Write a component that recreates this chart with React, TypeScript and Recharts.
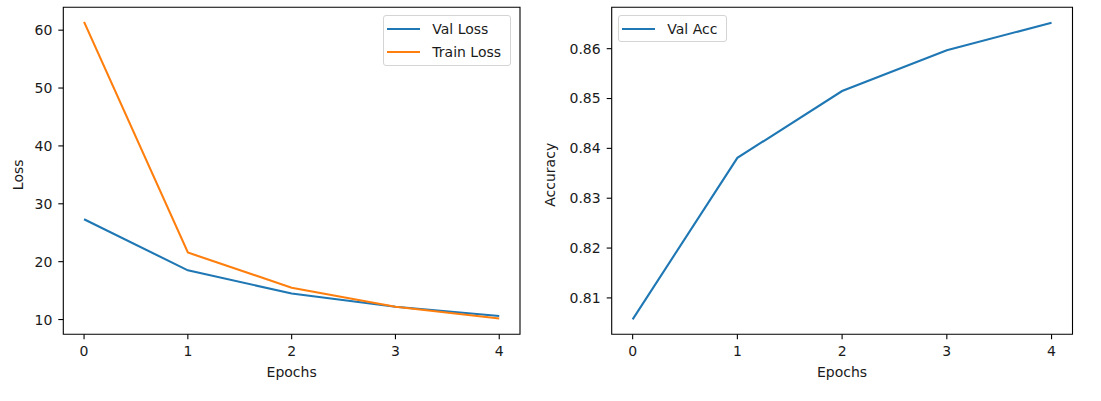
import React from 'react';
import { LineChart, Line, XAxis, YAxis, Legend, ReferenceArea } from 'recharts';

const epochs = [0, 1, 2, 3, 4];
const valLoss = [27.33, 18.5, 14.5, 12.2, 10.62];
const trainLoss = [61.43, 21.58, 15.5, 12.2, 10.17];
const valAcc = [0.8057, 0.8381, 0.8515, 0.8597, 0.8652];
const epochTicks = [0, 1, 2, 3, 4];
const lossTicks = [10, 20, 30, 40, 50, 60];
const accTicks = [0.81, 0.82, 0.83, 0.84, 0.85, 0.86];
const legendOrder = ['Val Loss', 'Train Loss', 'Val Acc'];

const xDomain: [number, number] = [-0.2, 4.2];
const lossDomain: [number, number] = [7.45, 63.95];
const accDomain: [number, number] = [0.8027, 0.8683];

const lossData = epochs.map((e, i) => ({ epoch: e, val: valLoss[i], train: trainLoss[i] }));
const accData = epochs.map((e, i) => ({ epoch: e, acc: valAcc[i] }));

const FONT = "'DejaVu Sans', sans-serif";
const BLUE = '#1f77b4';
const ORANGE = '#ff7f0e';
const TEXT = '#1a1a1a';

const tickStyle = { fontFamily: FONT, fontSize: 14, fill: TEXT };
const tickLine = { stroke: '#000', strokeWidth: 1.1 };

function LegendBox(props: any) {
  const payload = [...(props.payload || [])].sort(
    (a: any, b: any) => legendOrder.indexOf(a.value) - legendOrder.indexOf(b.value)
  );
  return (
    <div
      style={{
        border: '1px solid #d4d4d4',
        borderRadius: 3,
        background: 'rgba(255,255,255,0.8)',
        padding: '1px 9px 1px 3px',
        fontFamily: FONT,
        fontSize: 14,
        color: TEXT,
        boxSizing: 'border-box',
        display: 'inline-block',
      }}
    >
      {payload.map((p: any) => (
        <div key={p.value} style={{ height: 23.4, display: 'flex', alignItems: 'center' }}>
          <svg width={33} height={4} style={{ marginRight: 12, display: 'block' }}>
            <line x1={0} y1={2} x2={33} y2={2} stroke={p.color} strokeWidth={2.1} />
          </svg>
          <span style={{ whiteSpace: 'nowrap', lineHeight: '16px' }}>{p.value}</span>
        </div>
      ))}
    </div>
  );
}

const xLabel = (text: string) => ({
  content: (props: any) => {
    const vb = props.viewBox || { x: 0, y: 0, width: 0, height: 0 };
    return (
      <text x={vb.x + vb.width / 2} y={vb.y + 43} textAnchor="middle" style={tickStyle}>
        {text}
      </text>
    );
  },
});

const yLabel = (text: string, dx: number) => ({
  content: (props: any) => {
    const vb = props.viewBox || { x: 0, y: 0, width: 0, height: 0 };
    const cx = vb.x + dx;
    const cy = vb.y + vb.height / 2 + 4;
    return (
      <text
        x={cx}
        y={cy}
        textAnchor="middle"
        dominantBaseline="central"
        transform={`rotate(-90 ${cx} ${cy})`}
        style={tickStyle}
      >
        {text}
      </text>
    );
  },
});

function LossChart() {
  return (
    <LineChart width={530} height={401} data={lossData} margin={{ top: 7.3, right: 10, bottom: 6.7, left: 0 }}>
      <XAxis
        type="number"
        dataKey="epoch"
        domain={xDomain}
        ticks={epochTicks}
        allowDataOverflow
        height={60}
        axisLine={false}
        tickLine={tickLine}
        tickSize={5}
        tickMargin={7}
        tick={tickStyle}
        label={xLabel('Epochs')}
      />
      <YAxis
        type="number"
        domain={lossDomain}
        ticks={lossTicks}
        allowDataOverflow
        width={63.3}
        axisLine={false}
        tickLine={tickLine}
        tickSize={5}
        tickMargin={6}
        tick={tickStyle}
        label={yLabel('Loss', 18.3)}
      />
      <Line type="linear" dataKey="val" name="Val Loss" stroke={BLUE} strokeWidth={2.1} dot={false} isAnimationActive={false} />
      <Line type="linear" dataKey="train" name="Train Loss" stroke={ORANGE} strokeWidth={2.1} dot={false} isAnimationActive={false} />
      <ReferenceArea
        x1={xDomain[0]}
        x2={xDomain[1]}
        y1={lossDomain[0]}
        y2={lossDomain[1]}
        fill="none"
        fillOpacity={0}
        stroke="#000"
        strokeWidth={1.1}
        ifOverflow="visible"
      />
      <Legend
        layout="vertical"
        align="center"
        verticalAlign="middle"
        content={<LegendBox />}
        wrapperStyle={{ left: 383.3, top: 15, width: 130, height: 50 }}
      />
    </LineChart>
  );
}

function AccChart() {
  return (
    <LineChart width={571} height={401} data={accData} margin={{ top: 7.3, right: 28.5, bottom: 6.7, left: 0 }}>
      <XAxis
        type="number"
        dataKey="epoch"
        domain={xDomain}
        ticks={epochTicks}
        allowDataOverflow
        height={60}
        axisLine={false}
        tickLine={tickLine}
        tickSize={5}
        tickMargin={7}
        tick={tickStyle}
        label={xLabel('Epochs')}
      />
      <YAxis
        type="number"
        domain={accDomain}
        ticks={accTicks}
        allowDataOverflow
        width={81.7}
        axisLine={false}
        tickLine={tickLine}
        tickSize={5}
        tickMargin={6}
        tick={tickStyle}
        tickFormatter={(v: number) => v.toFixed(2)}
        label={yLabel('Accuracy', 20)}
      />
      <Line type="linear" dataKey="acc" name="Val Acc" stroke={BLUE} strokeWidth={2.1} dot={false} isAnimationActive={false} />
      <ReferenceArea
        x1={xDomain[0]}
        x2={xDomain[1]}
        y1={accDomain[0]}
        y2={accDomain[1]}
        fill="none"
        fillOpacity={0}
        stroke="#000"
        strokeWidth={1.1}
        ifOverflow="visible"
      />
      <Legend
        layout="vertical"
        align="center"
        verticalAlign="middle"
        content={<LegendBox />}
        wrapperStyle={{ left: 88.3, top: 15, width: 112, height: 28 }}
      />
    </LineChart>
  );
}

export default function App() {
  return (
    <div style={{ position: 'absolute', left: 0, top: 0, width: 1101, height: 401, background: '#fff' }}>
      <div style={{ position: 'absolute', left: 0, top: 0 }}>
        <LossChart />
      </div>
      <div style={{ position: 'absolute', left: 530, top: 0 }}>
        <AccChart />
      </div>
    </div>
  );
}
